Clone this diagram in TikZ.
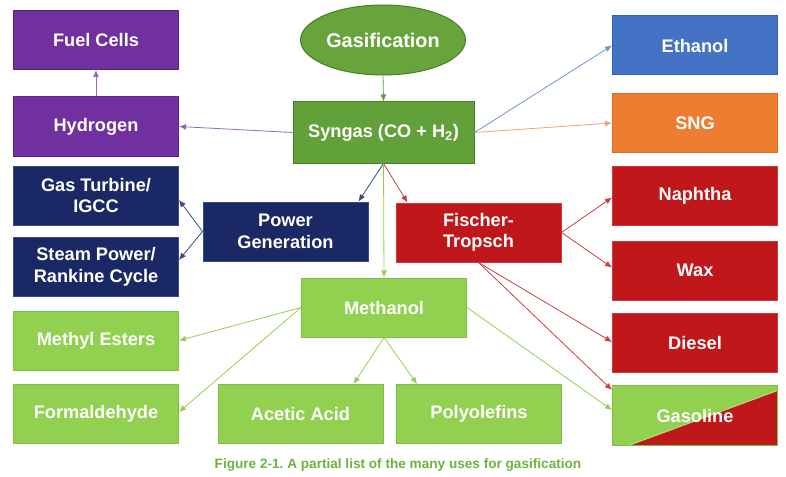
\documentclass[tikz,border=0pt]{standalone}
\usepackage{fontspec}
\setmainfont{Liberation Sans}
\usetikzlibrary{arrows.meta,shapes.geometric}
\frenchspacing
\definecolor{purp}{HTML}{7030A0}
\definecolor{purpb}{HTML}{5B2585}
\definecolor{dgreen}{HTML}{62A03A}
\definecolor{dgreenb}{HTML}{4A7D2A}
\definecolor{lgreen}{HTML}{92D050}
\definecolor{lgreenb}{HTML}{7DBE45}
\definecolor{navy}{HTML}{1A2866}
\definecolor{navyb}{HTML}{3A4A86}
\definecolor{redc}{HTML}{C0171A}
\definecolor{redb}{HTML}{D03A3C}
\definecolor{bluec}{HTML}{4472C4}
\definecolor{blueb}{HTML}{3460B0}
\definecolor{orangec}{HTML}{ED7D31}
\definecolor{orangeb}{HTML}{E06A20}
\definecolor{capc}{HTML}{6BB33F}
\definecolor{arrblue}{HTML}{6F93D8}
\definecolor{arrorange}{HTML}{F4A070}
\definecolor{arrpurp}{HTML}{9A66C2}
\tikzset{
  box/.style={rectangle, draw, line width=1pt, minimum width=165pt, minimum height=59pt,
    text=white, font=\bfseries\fontsize{18.2}{21.5}\selectfont, align=center, inner sep=2pt},
  conn/.style={line width=0.8pt, -{Latex[length=7pt,width=6pt]}},
}
\begin{document}
\begin{tikzpicture}[x=1pt,y=-1pt]
\useasboundingbox (0,0) rectangle (786,476);
% nodes
\node[ellipse, draw=dgreenb, fill=dgreen!90!lgreen, line width=1pt, minimum width=165pt, minimum height=70pt,
  text=white, font=\bfseries\fontsize{19.8}{22}\selectfont, inner sep=0pt] (gas) at (383,40) {Gasification};
\node[box, draw=dgreenb, fill=dgreen, minimum width=181pt, minimum height=61pt] (syn) at (383.5,132.5) {Syngas (CO + H\textsubscript{2})};
\node[box, draw=purpb, fill=purp] (fuel) at (96,40) {Fuel Cells};
\node[box, draw=purpb, fill=purp] (hyd) at (96,126.5) {Hydrogen};
\node[box, draw=blueb, fill=bluec] (eth) at (695,45.5) {Ethanol};
\node[box, draw=orangeb, fill=orangec] (sng) at (695,123) {SNG};
\node[box, draw=navyb, fill=navy] (gt) at (96,195.5) {Gas Turbine/\\IGCC};
\node[box, draw=navyb, fill=navy] (st) at (96,267) {Steam Power/\\Rankine Cycle};
\node[box, draw=navyb, fill=navy] (pow) at (285.5,231.5) {Power\\Generation};
\node[box, draw=redb, fill=redc] (ft) at (478.5,232.5) {Fischer-\\Tropsch};
\node[box, draw=redb, fill=redc] (nap) at (695,195.5) {Naphtha};
\node[box, draw=redb, fill=redc] (wax) at (695,270.5) {Wax};
\node[box, draw=redb, fill=redc] (die) at (695,343) {Diesel};
\node[box, draw=lgreenb, fill=lgreen] (meth) at (384,307.5) {Methanol};
\node[box, draw=lgreenb, fill=lgreen] (mest) at (96,340.5) {Methyl Esters};
\node[box, draw=lgreenb, fill=lgreen] (form) at (96,414) {Formaldehyde};
\node[box, draw=lgreenb, fill=lgreen] (acet) at (300.5,414) {Acetic Acid};
\node[box, draw=lgreenb, fill=lgreen] (poly) at (479,414) {Polyolefins};
\node[box, draw=lgreenb, fill=lgreen, minimum height=60pt,
  path picture={
    \fill[redc] ([xshift=16pt]path picture bounding box.south west) -- ([yshift=-5pt]path picture bounding box.north east) -- (path picture bounding box.south east) -- cycle;
    \draw[lgreen!70!white, line width=1pt] ([xshift=16pt]path picture bounding box.south west) -- ([yshift=-5pt]path picture bounding box.north east);
  }] (gasl) at (695,415.5) {Gasoline};
\node[text=capc, font=\bfseries\fontsize{13.6}{15}\selectfont, inner sep=0pt] (cap) at (398,465) {Figure 2-1. A partial list of the many uses for gasification};
% connectors
\draw[conn, dgreen] (gas.south) -- (syn.north);
\draw[conn, arrpurp] (syn.west) -- (hyd.east);
\draw[conn, arrpurp] (hyd.north) -- (fuel.south);
\draw[conn, arrblue] (syn.east) -- (eth.west);
\draw[conn, arrorange] (syn.east) -- (sng.west);
\draw[conn, navyb] (syn.south) -- ([xshift=-10pt]pow.north east);
\draw[conn, redb] (syn.south) -- ([xshift=12pt]ft.north west);
\draw[conn, lgreen] (syn.south) -- (meth.north);
\draw[conn, navyb] (pow.west) -- ([yshift=-4.5pt]gt.east);
\draw[conn, navyb] (pow.west) -- ([yshift=7pt]st.east);
\draw[conn, redb] (ft.east) -- ([yshift=-2pt]nap.west);
\draw[conn, redb] (ft.east) -- ([yshift=3pt]wax.west);
\draw[conn, redb] (ft.south) -- ([yshift=1pt]die.west);
\draw[conn, redb] (ft.south) -- ([yshift=-5pt]gasl.north west);
\draw[conn, lgreen] (meth.west) -- (mest.east);
\draw[conn, lgreen] (meth.west) -- ([yshift=2pt]form.east);
\draw[conn, lgreen] (meth.south) -- ([xshift=-30pt]acet.north east);
\draw[conn, lgreen] (meth.south) -- ([xshift=21pt]poly.north west);
\draw[conn, lgreen] (meth.east) -- ([yshift=5.5pt]gasl.west);
\end{tikzpicture}
\end{document}
